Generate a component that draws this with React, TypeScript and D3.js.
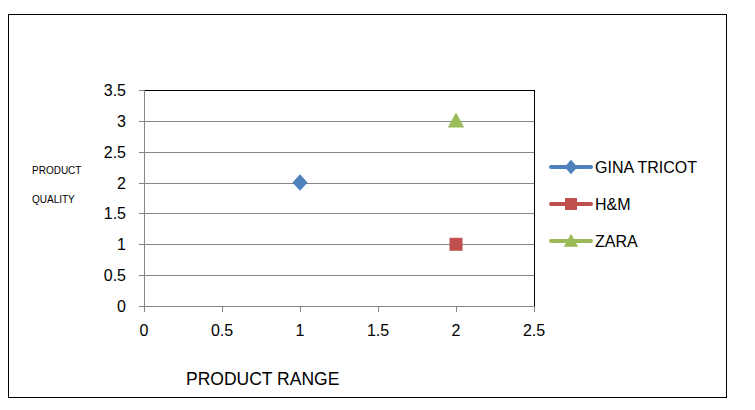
import React from "react";
import * as d3 from "d3";

const seriesNames = ["GINA TRICOT", "H&M", "ZARA"];
const xValues = [1, 2, 2];
const yValues = [2, 1, 3];
const colors = ["#4F81BD", "#C0504D", "#9BBB59"];
const shapes = ["diamond", "square", "triangle"];
const xTicks = [0, 0.5, 1, 1.5, 2, 2.5];
const yTicks = [0, 0.5, 1, 1.5, 2, 2.5, 3, 3.5];

const font = "'Liberation Sans', Arial, sans-serif";

function Marker({ shape, x, y, color, s }: { shape: string; x: number; y: number; color: string; s: number }) {
  if (shape === "diamond") {
    return <path d={`M${x},${y - s * 0.55}L${x + s * 0.5},${y}L${x},${y + s * 0.55}L${x - s * 0.5},${y}Z`} fill={color} />;
  }
  if (shape === "square") {
    return <rect x={x - s / 2} y={y - s / 2} width={s} height={s} fill={color} />;
  }
  return <path d={`M${x},${y - s * 0.55}L${x + s * 0.55},${y + s * 0.45}L${x - s * 0.55},${y + s * 0.45}Z`} fill={color} />;
}

export default function App() {
  const W = 755, H = 410;
  const x = d3.scaleLinear().domain([0, 2.5]).range([144, 534]);
  const y = d3.scaleLinear().domain([0, 3.5]).range([306, 90]);
  return (
    <svg width={W} height={H} style={{ position: "absolute", left: 0, top: 0 }}>
      <rect x={0} y={0} width={W} height={H} fill="#fff" />
      <rect x={8.5} y={14.5} width={718} height={383} fill="none" stroke="#000" strokeWidth={1} />
      {yTicks.filter(t => t > 0 && t < 3.5).map(t => (
        <line key={t} x1={144} x2={534} y1={Math.round(y(t)) + 0.5} y2={Math.round(y(t)) + 0.5} stroke="#868686" />
      ))}
      <line x1={144} x2={534} y1={90.5} y2={90.5} stroke="#000" />
      <line x1={534.5} x2={534.5} y1={90} y2={306} stroke="#000" />
      <line x1={144.5} x2={144.5} y1={90} y2={306} stroke="#868686" />
      <line x1={144} x2={534} y1={306.5} y2={306.5} stroke="#868686" />
      {yTicks.map(t => (
        <g key={t}>
          <line x1={139} x2={144} y1={Math.round(y(t)) + 0.5} y2={Math.round(y(t)) + 0.5} stroke="#868686" />
          <text x={126} y={y(t) + 6} textAnchor="end" fontFamily={font} fontSize={16} fill="#000">{t}</text>
        </g>
      ))}
      {xTicks.map(t => (
        <g key={t}>
          <line x1={Math.round(x(t)) + 0.5} x2={Math.round(x(t)) + 0.5} y1={306} y2={312} stroke="#868686" />
          <text x={x(t)} y={336} textAnchor="middle" fontFamily={font} fontSize={16} fill="#000">{t}</text>
        </g>
      ))}
      <text x={32} y={174} fontFamily={font} fontSize={10} fill="#000">PRODUCT</text>
      <text x={32} y={203} fontFamily={font} fontSize={10} fill="#000">QUALITY</text>
      <text x={186} y={385} fontFamily={font} fontSize={17.5} fill="#000">PRODUCT RANGE</text>
      {seriesNames.map((n, i) => (
        <Marker key={n} shape={shapes[i]} x={x(xValues[i])} y={y(yValues[i])} color={colors[i]} s={shapes[i] === "square" ? 13 : 15} />
      ))}
      {seriesNames.map((n, i) => {
        const ly = 167 + i * 37;
        return (
          <g key={n}>
            <line x1={551} x2={591} y1={ly} y2={ly} stroke={colors[i]} strokeWidth={4} strokeLinecap="round" />
            <Marker shape={shapes[i]} x={571} y={ly} color={colors[i]} s={shapes[i] === "square" ? 12 : 13} />
            <text x={595} y={ly + 6} fontFamily={font} fontSize={16} fill="#000">{n}</text>
          </g>
        );
      })}
    </svg>
  );
}
